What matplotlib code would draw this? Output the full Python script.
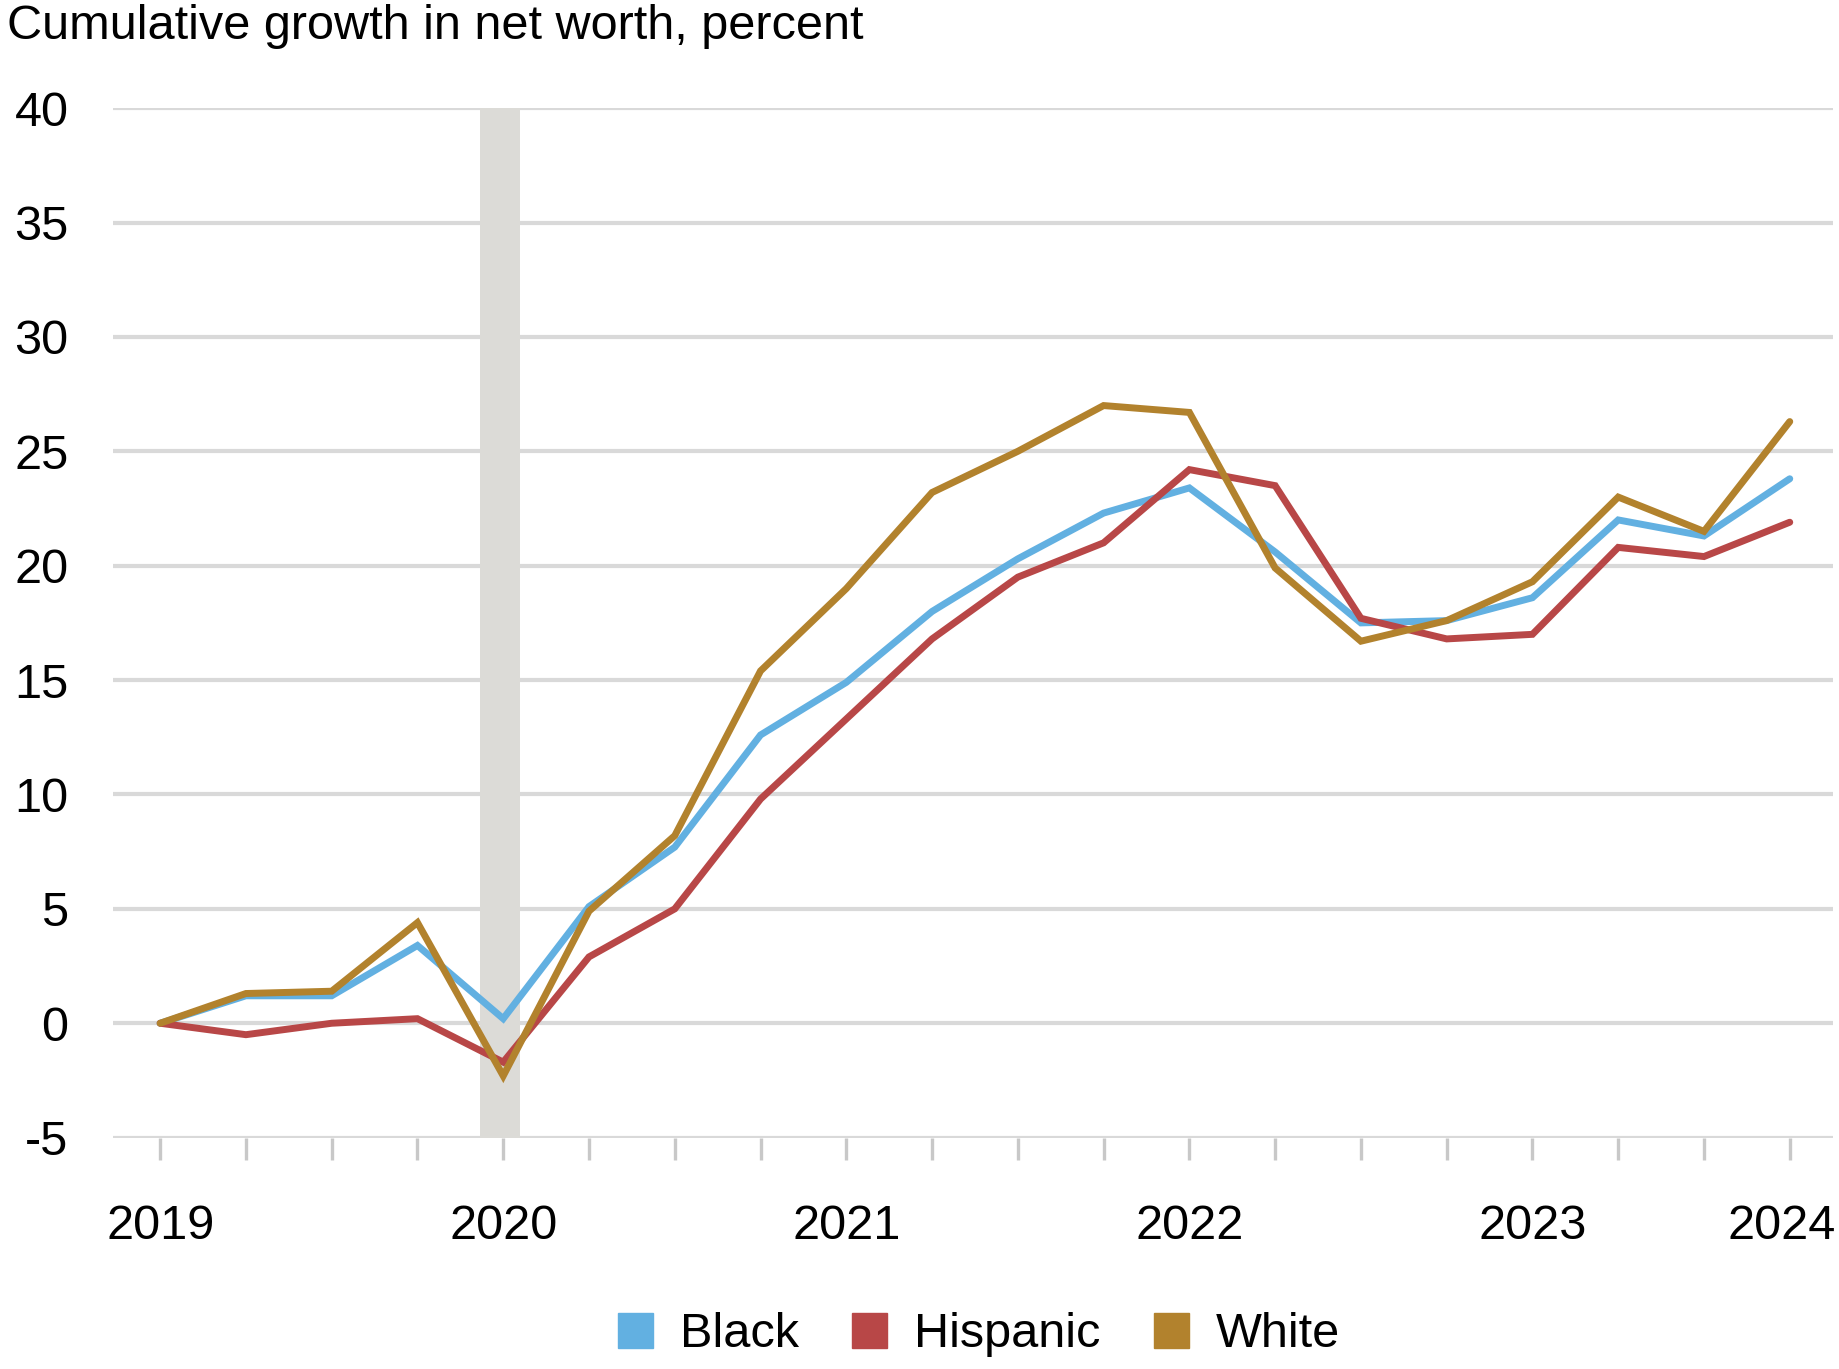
import matplotlib
matplotlib.use('Agg')
import matplotlib.pyplot as plt
import matplotlib.patches as mpatches
import matplotlib.transforms as mtransforms

plt.rcParams['font.family'] = ['Liberation Sans', 'DejaVu Sans']
plt.rcParams['axes.unicode_minus'] = False

# quarterly points, 2019Q1 onward
quarters = list(range(20))
black = [0, 1.2, 1.2, 3.4, 0.2, 5.1, 7.7, 12.6, 14.9, 18.0,
         20.3, 22.3, 23.4, 20.6, 17.5, 17.6, 18.6, 22.0, 21.3, 23.8]
hispanic = [0, -0.5, 0.0, 0.2, -1.7, 2.9, 5.0, 9.8, 13.3, 16.8,
            19.5, 21.0, 24.2, 23.5, 17.7, 16.8, 17.0, 20.8, 20.4, 21.9]
white = [0, 1.3, 1.4, 4.4, -2.3, 4.9, 8.2, 15.4, 19.0, 23.2,
         25.0, 27.0, 26.7, 19.9, 16.7, 17.6, 19.3, 23.0, 21.5, 26.3]
year_labels = {0: '2019', 4: '2020', 8: '2021', 12: '2022', 16: '2023', 19: '2024'}
recession = (3.73, 4.2)

colors = {'Black': '#62b0e1', 'Hispanic': '#b84747', 'White': '#b2822d'}
FS = 35

fig = plt.figure(figsize=(18.4, 13.69), dpi=100)
ax = fig.add_axes([0.0614, 0.169, 0.9346, 0.752])

ax.axvspan(*recession, color='#dcdbd7', lw=0, zorder=1)
for v in range(-5, 41, 5):
    ax.axhline(v, color='#d9d9d9', lw=3, zorder=0)

for name, vals in [('Black', black), ('Hispanic', hispanic), ('White', white)]:
    ax.plot(quarters, vals, color=colors[name], lw=5, zorder=3,
            solid_joinstyle='miter', solid_capstyle='round')

ax.set_xlim(-0.55, 19.5)
ax.set_ylim(-5, 40)
ax.set_yticks(range(-5, 41, 5))
ax.set_xticks(quarters)
ax.set_xticklabels([year_labels.get(q, '') for q in quarters])
ax.tick_params(axis='y', length=0, pad=32, labelsize=FS)
ax.tick_params(axis='x', length=16, width=2.4, color='#c8c8c8', pad=32, labelsize=FS)
for s in ax.spines.values():
    s.set_visible(False)

# nudge the last year label so it stays inside the canvas
last = ax.get_xticklabels()[-1]
last.set_transform(last.get_transform() +
                   mtransforms.ScaledTranslation(-8 / 100, 0, fig.dpi_scale_trans))

fig.text(0.004, 0.997, 'Cumulative growth in net worth, percent', fontsize=FS,
         ha='left', va='top')

handles = [mpatches.Patch(color=colors[n], label=n) for n in colors]
fig.legend(handles=handles, loc='center', bbox_to_anchor=(0.532, 0.025), ncol=3,
           frameon=False, fontsize=FS, handlelength=0.72, handleheight=0.72,
           handletextpad=0.55, columnspacing=1.1)

plt.savefig('out.png', dpi=100)
plt.close()
